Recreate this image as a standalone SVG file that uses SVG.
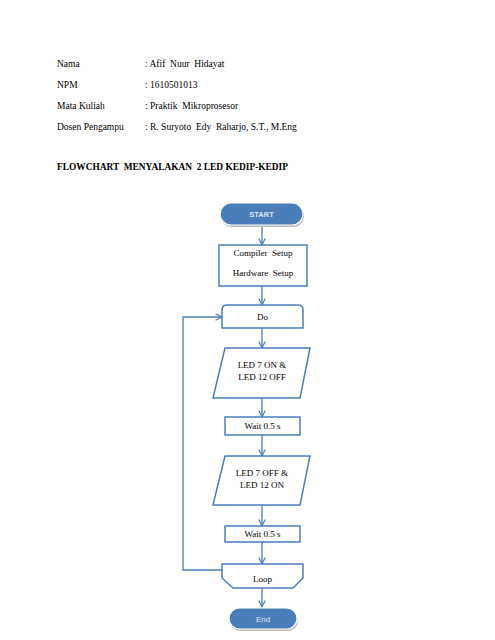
<svg xmlns="http://www.w3.org/2000/svg" width="495" height="640" viewBox="0 0 495 640">
<defs>
<style>
text{white-space:pre}
.hd{font-family:"Liberation Serif",serif;font-size:9.5px;fill:#000}
.ttl{font-family:"Liberation Serif",serif;font-size:9.4px;font-weight:bold;fill:#000}
.nt{font-family:"Liberation Serif",serif;font-size:9px;fill:#000;text-anchor:middle}
.shp{fill:#fff;stroke:#4A7EBB;stroke-width:1.5}
.pill{fill:#4A7EBB;stroke:#fff;stroke-width:1.2}
.shadow{fill:#bbb}
.pt{font-family:"Liberation Sans",sans-serif;fill:#DCE6F2;text-anchor:middle}
.cn{fill:none;stroke:#4A7EBB;stroke-width:1.3}
</style>
<marker id="ah" viewBox="0 0 10 10" refX="9" refY="5" markerWidth="8" markerHeight="8" markerUnits="userSpaceOnUse" orient="auto">
<path d="M1,1 L9,5 L1,9" fill="none" stroke="#4A7EBB" stroke-width="1.5"/>
</marker>
</defs>
<rect width="495" height="640" fill="#fff"/>
<g id="header">
<text class="hd" x="57" y="67">Nama</text>
<text class="hd" x="145" y="67" xml:space="preserve">: Afif  Nuur  Hidayat</text>
<text class="hd" x="57" y="88">NPM</text>
<text class="hd" x="145" y="88">: 1610501013</text>
<text class="hd" x="57" y="109">Mata Kuliah</text>
<text class="hd" x="145" y="109" xml:space="preserve">: Praktik  Mikroprosesor</text>
<text class="hd" x="57" y="130">Dosen Pengampu</text>
<text class="hd" x="145" y="130" xml:space="preserve">: R. Suryoto  Edy  Raharjo, S.T., M.Eng</text>
<text class="ttl" x="57" y="170" xml:space="preserve">FLOWCHART  MENYALAKAN  2 LED KEDIP-KEDIP</text>
</g>
<g id="connectors">
<line class="cn" x1="262" y1="226" x2="262" y2="245" marker-end="url(#ah)"/>
<line class="cn" x1="262" y1="286" x2="262" y2="305" marker-end="url(#ah)"/>
<line class="cn" x1="262" y1="328" x2="262" y2="348" marker-end="url(#ah)"/>
<line class="cn" x1="262" y1="398" x2="262" y2="417" marker-end="url(#ah)"/>
<line class="cn" x1="262" y1="435" x2="262" y2="456" marker-end="url(#ah)"/>
<line class="cn" x1="262" y1="505" x2="262" y2="526" marker-end="url(#ah)"/>
<line class="cn" x1="262" y1="542" x2="262" y2="564" marker-end="url(#ah)"/>
<line class="cn" x1="262" y1="588" x2="262" y2="607" marker-end="url(#ah)"/>
<polyline class="cn" points="222,570 183,570 183,317 222,317" marker-end="url(#ah)"/>
</g>
<g id="start">
<rect class="shadow" x="221" y="205" width="83" height="22" rx="11"/>
<rect class="pill" x="220" y="203" width="83" height="22" rx="11"/>
<text class="pt" x="261.5" y="217" font-size="7.5" font-weight="bold">START</text>
</g>
<g id="setup">
<rect class="shp" x="219" y="245" width="88" height="41"/>
<text class="nt" x="263" y="256" xml:space="preserve">Compiler  Setup</text>
<text class="nt" x="263" y="276" xml:space="preserve">Hardware  Setup</text>
</g>
<g id="do">
<path class="shp" d="M222,328 L222,310 Q222,305 227,305 L298,305 Q303,305 303,310 L303,328 Z"/>
<text class="nt" x="262.5" y="320">Do</text>
</g>
<g id="led1">
<polygon class="shp" points="225,348 310,348 300,398 213,398"/>
<text class="nt" x="262" y="368">LED 7 ON &amp;</text>
<text class="nt" x="262" y="380">LED 12 OFF</text>
</g>
<g id="wait1">
<rect class="shp" x="225" y="417" width="75" height="18"/>
<text class="nt" x="262.5" y="429">Wait 0.5 s</text>
</g>
<g id="led2">
<polygon class="shp" points="225,456 310,456 300,505 213,505"/>
<text class="nt" x="262" y="476">LED 7 OFF &amp;</text>
<text class="nt" x="262" y="488">LED 12 ON</text>
</g>
<g id="wait2">
<rect class="shp" x="225" y="526" width="75" height="16"/>
<text class="nt" x="262.5" y="537">Wait 0.5 s</text>
</g>
<g id="loop">
<path class="shp" d="M222,564 L303,564 L303,578 L293,588 L233,588 L222,578 Z"/>
<text class="nt" x="262.5" y="582">Loop</text>
</g>
<g id="end">
<rect class="shadow" x="230" y="610" width="68" height="21" rx="10.5"/>
<rect class="pill" x="229" y="608" width="68" height="21" rx="10.5"/>
<text class="pt" x="263" y="621.5" font-size="8">End</text>
</g>
</svg>
